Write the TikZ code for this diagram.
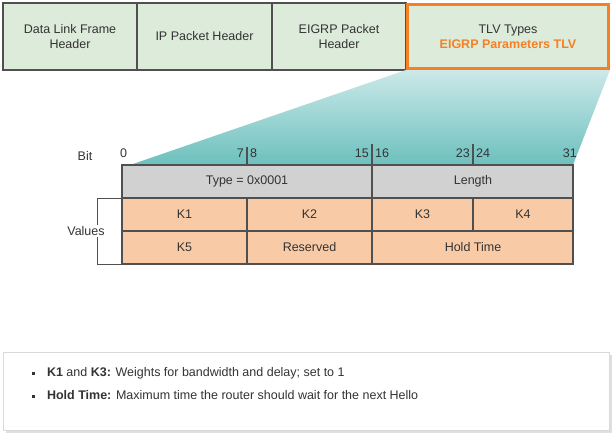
\documentclass[tikz,border=0pt]{standalone}
\usepackage{fontspec}
\setmainfont{Liberation Sans}
\usetikzlibrary{positioning,shadows}
\definecolor{hdrgreen}{HTML}{DDEBDA}
\definecolor{tlvorange}{HTML}{F58025}
\definecolor{cellgray}{HTML}{D2D1D2}
\definecolor{cellpeach}{HTML}{F8CBA6}
\definecolor{teal}{HTML}{6CC0BE}
\definecolor{linegray}{HTML}{505050}
\newcommand{\sqbullet}{\rule[0.25ex]{3pt}{3pt}}
\begin{document}
\begin{tikzpicture}[x=1pt,y=-1pt,font=\fontsize{12.5}{15}\selectfont,text=black!80]
\tikzset{hdr/.style={draw=linegray,line width=1.2pt,fill=hdrgreen,align=center},
	cell/.style={draw=linegray,line width=1.2pt},
	bitn/.style={inner sep=1pt}}
\useasboundingbox (0,0) rectangle (614,434);
% header boxes
\node[hdr,minimum width=134,minimum height=67] (DL) at (70,36.5) {Data Link Frame\\Header};
\node[hdr,minimum width=135,minimum height=67] (IP) at (204.5,36.5) {IP Packet Header};
\node[hdr,minimum width=134,minimum height=67] (EP) at (339,36.5) {EIGRP Packet\\Header};
% zoom funnel
\shade[top color=teal!35,bottom color=teal] (406,70) -- (610,70) -- (573,165) -- (130,165) -- cycle;
\node[hdr,draw=tlvorange,line width=3pt,minimum width=201,minimum height=64] (TLV) at (508,36.5)
	{TLV Types\\\textbf{\color{tlvorange}EIGRP Parameters TLV}};
% table cells
\filldraw[cell,fill=cellgray] (122,165) rectangle (372,198);
\filldraw[cell,fill=cellgray] (372,165) rectangle (573,198);
\filldraw[cell,fill=cellpeach] (122,198) rectangle (573,264);
\draw[cell] (122,231) -- (573,231) (247,198) -- (247,264) (372,198) -- (372,264) (473,198) -- (473,231);
\node (type) at (247,181.5) {Type = 0x0001};
\node (len) at (473,181.5) {Length};
\node (k1) at (184.5,214.5) {K1};
\node (k2) at (309.5,214.5) {K2};
\node (k3) at (422.5,214.5) {K3};
\node (k4) at (523,214.5) {K4};
\node (k5) at (184.5,247.5) {K5};
\node (res) at (309.5,247.5) {Reserved};
\node (hold) at (473,247.5) {Hold Time};
% bit numbers
\draw[cell] (247,147) -- (247,165) (372,144) -- (372,165) (473,144) -- (473,165);
\node (bit) at (85,156) {Bit};
\foreach \nm/\x/\a in {0/119/north west,7/245/north east,8/249/north west,15/370/north east,
	16/374/north west,23/471/north east,24/475/north west,31/578/north east}
	\node[bitn,anchor=\a] (b\nm) at (\x,148) {\nm};
% values bracket
\draw[linegray,line width=1pt] (122,198) -- (97,198) -- (97,264) -- (122,264);
\node[fill=white,inner sep=1pt] (vals) at (86,231) {Values};
% notes
\node[draw=black!15,fill=white,drop shadow={opacity=0.25},minimum width=606,minimum height=78,anchor=north west] (note) at (3,352) {};
\node[anchor=west,align=left] (n1) at (28,373) {\sqbullet\quad\textbf{K1} and \textbf{K3:} Weights for bandwidth and delay; set to 1};
\node[anchor=west,align=left] (n2) at (28,395) {\sqbullet\quad\textbf{Hold Time:} Maximum time the router should wait for the next Hello};
\end{tikzpicture}
\end{document}
